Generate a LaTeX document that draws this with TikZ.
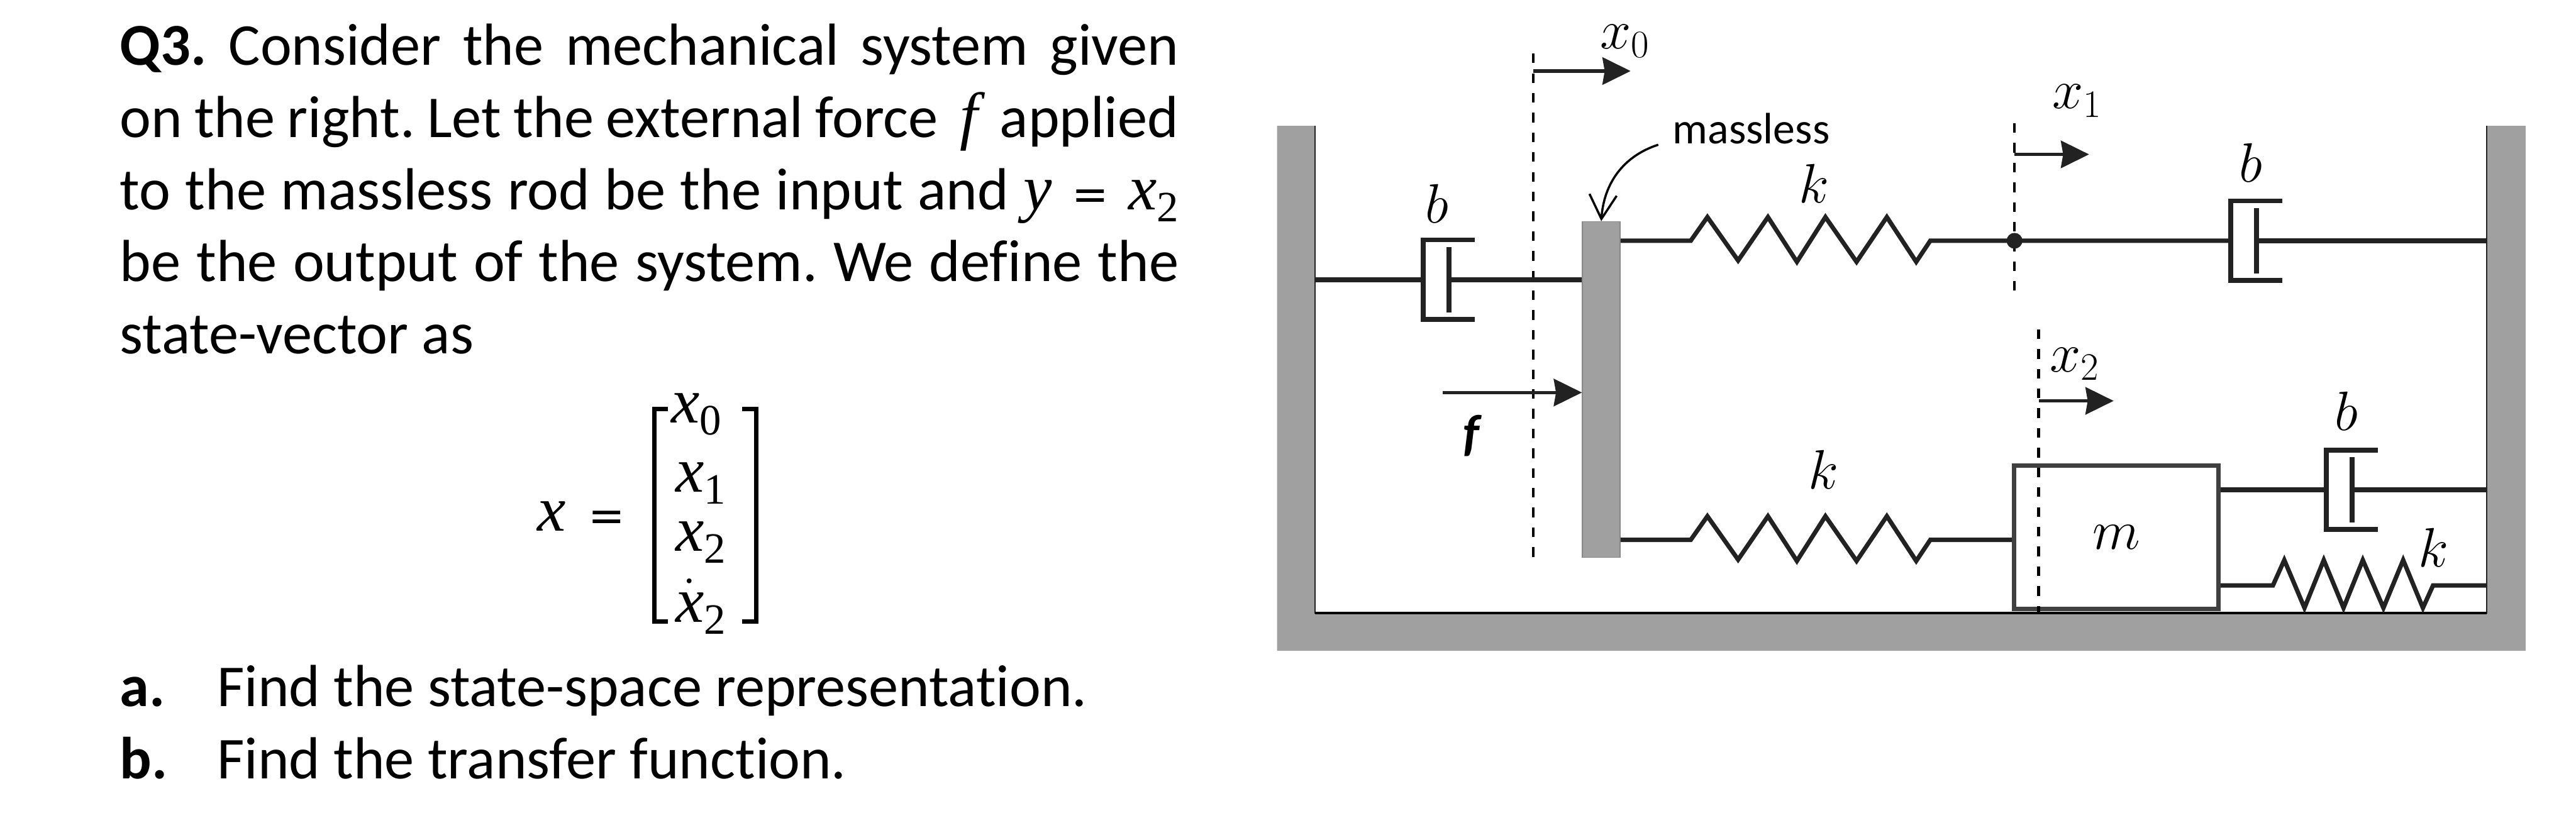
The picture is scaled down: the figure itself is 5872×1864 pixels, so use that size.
\documentclass[tikz,border=0pt]{standalone}
\usepackage{fix-cm}
\usepackage{fontspec}
\setmainfont[Ligatures=NoCommon]{Carlito}
\newfontfamily\qitfont[Scale=1.08]{Liberation Serif}
\newfontfamily\qeqfont[Scale=.74]{DejaVu Sans}
\usetikzlibrary{arrows.meta}
\definecolor{wallgray}{HTML}{A0A0A0}
\definecolor{massdark}{HTML}{404040}
\definecolor{linedark}{HTML}{222222}
\frenchspacing
% one line of the question, stretched to the column width
\newcommand{\fullline}[1]{\makebox[24.12cm][s]{#1}}
% letters of the question text
\newcommand{\qvar}[1]{\hbox{\qitfont\itshape #1}}
\newcommand{\qsub}[2]{\qvar{#1}\lower.2em\hbox{\fontsize{26}{30}\selectfont\qitfont #2}}
\newcommand{\qeq}{\mathrel{\hbox{\qeqfont =}}}
% zigzags, long and short
\newcommand{\longspring}{-- ++(38,-54) -- ++(70,99) -- ++(68,-99) -- ++(66,102) -- ++(65,-102) -- ++(71,102) -- ++(69,-102) -- ++(67,102) -- ++(32,-48)}
\newcommand{\shortspring}{-- ++(26,-58) -- ++(46,109) -- ++(44,-109) -- ++(45,109) -- ++(44,-109) -- ++(47,109) -- ++(45,-109) -- ++(45,109) -- ++(23,-51)}
% damper whose back plate is at the named coordinate
\newcommand{\damper}[1]{
\draw [mech line] (#1) ++(118,-91) -- ++(-118,0) -- ++(0,181) -- ++(118,0);
\draw [mech line] (#1) ++(59,-75) -- ++(0,150);
}
\begin{document}
\begin{tikzpicture}[x=0.01cm, y=-0.01cm,
text line/.style={anchor=base west,inner sep=0pt,font=\fontsize{38.5}{45}\selectfont},
vec entry/.style={anchor=base,inner sep=0pt,font=\fontsize{38.5}{45}\selectfont},
cm label/.style={anchor=center,inner sep=0pt,font=\fontsize{36}{42}\selectfont},
mech line/.style={line width=.11cm,draw=linedark},
spring line/.style={line width=.1cm,draw=linedark,line join=miter},
guide line/.style={line width=.06cm,draw=black,dash pattern=on .22cm off .23cm},
move arrow/.style={line width=.08cm,draw=linedark,-{Stealth[length=.64cm,width=.62cm,inset=.05cm]}},
rod node/.style={draw=wallgray!85!black,line width=.02cm,fill=wallgray,minimum width=.86cm,minimum height=7.65cm,inner sep=0pt},
mass node/.style={draw=massdark,line width=.1cm,fill=none,minimum width=4.66cm,minimum height=3.28cm,inner sep=0pt}]
\useasboundingbox (0,0) rectangle (5872,1864);
% question text
\node [text line](t1) at (273,149) {\fullline{\textbf{Q3.} Consider the mechanical system given}};
\node [text line](t2) at (273,313) {\fullline{on the right. Let the external force $\,\qvar{f}\,$ applied}};
\node [text line](t3) at (273,478) {\fullline{to the massless rod be the input and $\qvar{y}\qeq\qsub{x}{2}$}};
\node [text line](t4) at (273,642) {\fullline{be the output of the system. We define the}};
\node [text line](t5) at (273,807) {state-vector as};
\node [text line](ta) at (273,1610) {\textbf{a.}};
\node [text line](tb) at (273,1775) {\textbf{b.}};
\node [text line](ta2) at (494,1610) {Find the state-space representation.};
\node [text line](tb2) at (494,1775) {Find the transfer function.};
% state vector
\node [vec entry](vx) at (1258,1211) {$\qvar{x}$};
\node [vec entry](veq) at (1383,1211) {$\qeq$};
\node [vec entry](e0) at (1587,964) {$\qsub{x}{0}$};
\node [vec entry](e1) at (1597,1122) {$\qsub{x}{1}$};
\node [vec entry](e2) at (1597,1257) {$\qsub{x}{2}$};
\node [vec entry](e3) at (1597,1418) {$\dot{\qvar{x}}\lower.2em\hbox{\fontsize{26}{30}\selectfont\qitfont 2}$};
\draw [line width=.1cm] (1523,932) -- (1491,932) -- (1491,1417) -- (1523,1417);
\draw [line width=.1cm] (1692,932) -- (1724,932) -- (1724,1417) -- (1692,1417);
% walls and floor
\fill [wallgray] (2911,287) -- (2997,287) -- (2997,1398) -- (5669,1398) -- (5669,287) -- (5757,287) -- (5757,1484) -- (2911,1484) -- cycle;
\draw [line width=.03cm,draw=linedark] (2997,287) -- (2997,1398) -- (5669,1398) -- (5669,287);
\draw [line width=.05cm,draw=black] (2997,1398) -- (5669,1398);
% rod and mass
\node [rod node](rod) at (3650,888) {};
\node [mass node](mass) at (4824,1225) {};
\node [cm label] (lm) at (mass.center) {$m$};
% guides
\coordinate (g0top) at (3495,122);
\coordinate (g0bot) at (3495,1273);
\coordinate (g1top) at (4592,281);
\coordinate (g1bot) at (4592,663);
\coordinate (g2top) at (4647,751);
\coordinate (g2bot) at (4647,1396);
\draw [guide line] (g0top) -- (g0bot);
\draw [guide line] (g1top) -- (g1bot);
\draw [guide line] (g2top) -- (g2bot);
\coordinate (a0) at (3495,162);
\coordinate (a0t) at (3717,162);
\coordinate (a1) at (4592,352);
\coordinate (a1t) at (4762,352);
\coordinate (a2) at (4647,914);
\coordinate (a2t) at (4818,914);
\draw [move arrow] (a0) -- (a0t);
\draw [move arrow] (a1) -- (a1t);
\draw [move arrow] (a2) -- (a2t);
\node [cm label] (lx0) at (3704,94) {$x_0$};
\node [cm label] (lx1) at (4735,230) {$x_1$};
\node [cm label] (lx2) at (4729,830) {$x_2$};
% left damper
\coordinate (d1) at (3244,638);
\coordinate (d1p) at (3303,638);
\coordinate (wl) at (2997,638);
\draw [mech line] (wl) -- (d1);
\draw [mech line] (d1p) -- (rod.west |- d1p);
\damper{d1}
\node [cm label] (lb1) at (3275,464) {$b$};
% upper branch
\coordinate (s1a) at (3854,549);
\coordinate (joint) at (4592,549);
\coordinate (d2) at (5085,549);
\coordinate (d2p) at (5144,549);
\coordinate (wr1) at (5669,549);
\draw [spring line] (rod.east |- s1a) -- (s1a) \longspring -- (joint) -- (d2);
\draw [mech line] (d2p) -- (wr1);
\damper{d2}
\fill [linedark] (joint) circle (.18cm);
\node [cm label] (lk1) at (4135,418) {$k$};
\node [cm label] (lb2) at (5131,371) {$b$};
% lower branch
\coordinate (s2a) at (3854,1231);
\draw [spring line] (rod.east |- s2a) -- (s2a) \longspring -- (mass.west |- s2a);
\node [cm label] (lk2) at (4157,1071) {$k$};
\coordinate (d3) at (5303,1117);
\coordinate (d3p) at (5362,1117);
\coordinate (wr2) at (5669,1117);
\draw [mech line] (mass.east |- d3) -- (d3);
\draw [mech line] (d3p) -- (wr2);
\damper{d3}
\node [cm label] (lb3) at (5348,937) {$b$};
\coordinate (s3a) at (5181,1335);
\coordinate (wr3) at (5669,1335);
\draw [spring line] (mass.east |- s3a) -- (s3a) \shortspring -- (wr3);
\node [cm label] (lk3) at (5547,1248) {$k$};
% massless note and force
\node [inner sep=0pt,font=\fontsize{28.5}{32}\selectfont](note) at (3992,293) {massless};
\coordinate (nstart) at (3780,330);
\draw [line width=.05cm,-{Straight Barb[length=.55cm,width=.62cm]}] (nstart) to [out=198,in=86] (rod.north);
\coordinate (fstart) at (3289,895);
\draw [move arrow] (fstart) -- (rod.west |- fstart);
\node [inner sep=0pt,font=\fontsize{33}{38}\selectfont\bfseries\itshape](lf) at (3353,993) {f};
\end{tikzpicture}
\end{document}
